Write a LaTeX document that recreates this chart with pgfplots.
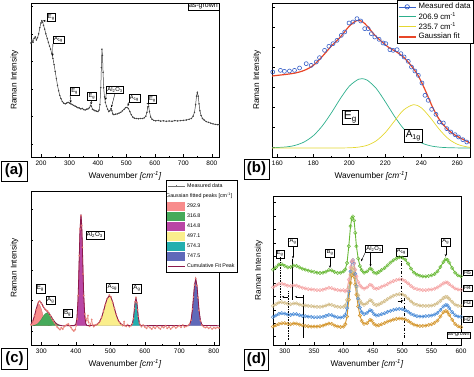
\documentclass[border=0pt]{standalone}
\usepackage{pgfplots}
\pgfplotsset{compat=1.18}
\usepackage{fontspec}
\setmainfont{Liberation Sans}
\usetikzlibrary{arrows.meta}

\definecolor{bblue}{RGB}{55,95,200}
\definecolor{bteal}{RGB}{45,175,140}
\definecolor{byel}{RGB}{228,215,50}
\definecolor{bred}{RGB}{232,70,40}
\definecolor{cpink}{RGB}{248,140,140}
\definecolor{cgreen}{RGB}{70,170,90}
\definecolor{cmag}{RGB}{185,70,165}
\definecolor{cyel}{RGB}{250,238,140}
\definecolor{cteal}{RGB}{35,175,175}
\definecolor{cslate}{RGB}{95,105,185}
\definecolor{cmaroon}{RGB}{140,25,75}
\definecolor{csalmon}{RGB}{232,125,115}
\definecolor{dgreen}{RGB}{105,185,55}
\definecolor{dpink}{RGB}{245,165,165}
\definecolor{dtan}{RGB}{210,188,135}
\definecolor{dblue}{RGB}{75,140,215}
\definecolor{dorange}{RGB}{212,150,45}

\pgfplotsset{
  panel/.style={
    scale only axis, anchor=south west,
    axis line style={line width=0.7pt},
    tick pos=left, tick align=inside,
    major tick length=2.5pt, minor tick length=1.4pt,
    every tick/.style={line width=0.5pt, black},
    yticklabels={},
    tick label style={font=\fontsize{6.5}{7.5}\selectfont},
    /pgf/number format/assume math mode=true,
    xlabel={Wavenumber \textit{[cm\textsuperscript{-1}]}},
    ylabel={Raman Intensity},
    label style={font=\fontsize{8.3}{9}\selectfont},
    xlabel style={at={(axis description cs:0.5,0)}, anchor=center, yshift=-19pt},
  },
}
\tikzset{
  lbl/.style={draw, line width=0.4pt, inner sep=1pt, fill=white, font=\fontsize{5.8}{6.5}\selectfont},
  arr/.style={-{Stealth[length=2.5pt,width=2pt]}, line width=0.4pt},
}

\begin{document}
\begin{tikzpicture}[x=1pt,y=1pt]
\useasboundingbox (0,0) rectangle (474,377);

% ---------------- (a)
\begin{axis}[panel, at={(31pt,220pt)}, width=188pt, height=154pt,
  xmin=165, xmax=825, ymin=0, ymax=1,
  xtick={200,300,...,800}, minor x tick num=1,
  ytick={0.083,0.262,0.441,0.62,0.799,0.978}, minor y tick num=1,
  ylabel style={at={(axis description cs:-0.088,0.5)}, anchor=center}]
\addplot[color=black!75, line width=0.5pt, mark=*, mark size=0.45pt] coordinates {
(165,0.74) (168,0.76) (172,0.745) (176,0.77) (180,0.78) (184,0.76) (188,0.775) (192,0.80) (196,0.84) (200,0.87) (203,0.885) (206,0.875) (209,0.855) (213,0.83) (217,0.80) (222,0.77) (226,0.745) (230,0.72) (234,0.70) (238,0.67) (242,0.64) (246,0.60) (250,0.555) (254,0.51) (258,0.465) (262,0.43) (266,0.40) (270,0.38) (275,0.36) (280,0.35) (285,0.345) (290,0.35) (295,0.355) (300,0.35) (305,0.345) (310,0.34) (315,0.335) (320,0.33) (325,0.325) (330,0.32) (335,0.318) (340,0.312) (345,0.315) (350,0.308) (355,0.305) (360,0.31) (365,0.312) (370,0.32) (374,0.335) (377,0.33) (381,0.31) (386,0.305) (390,0.30) (395,0.298) (400,0.295) (404,0.305) (407,0.34) (410,0.45) (412,0.58) (414,0.70) (416,0.66) (418,0.55) (420,0.45) (423,0.39) (426,0.355) (430,0.33) (434,0.31) (438,0.295) (442,0.30) (446,0.315) (449,0.30) (452,0.28) (456,0.275) (462,0.278) (468,0.28) (474,0.285) (480,0.29) (486,0.30) (492,0.31) (497,0.32) (502,0.322) (507,0.315) (512,0.295) (517,0.275) (522,0.26) (528,0.252) (535,0.25) (542,0.248) (550,0.25) (557,0.25) (563,0.255) (568,0.265) (572,0.29) (575,0.325) (578,0.33) (581,0.295) (585,0.26) (590,0.245) (596,0.238) (603,0.235) (612,0.237) (620,0.233) (630,0.235) (640,0.232) (650,0.234) (660,0.232) (670,0.236) (680,0.234) (690,0.236) (700,0.238) (710,0.24) (720,0.245) (728,0.25) (734,0.265) (739,0.29) (743,0.34) (746,0.395) (749,0.42) (752,0.395) (755,0.345) (758,0.30) (762,0.27) (767,0.25) (773,0.24) (780,0.23) (788,0.225) (796,0.22) (804,0.215) (812,0.212) (820,0.21) (825,0.21)};
\node[lbl, anchor=north east, font=\fontsize{7}{8}\selectfont] at (rel axis cs:1,1) {as-grown};
\node[lbl] (a1) at (axis cs:236,0.909) {E\textsubscript{g}};
\draw[arr] (a1.south west) -- (axis cs:207,0.885);
\node[lbl] (a2) at (axis cs:261.5,0.762) {A\textsubscript{1g}};
\draw[arr] (a2.south west) -- (axis cs:241,0.655);
\node[lbl] (a3) at (axis cs:318,0.427) {E\textsubscript{g}};
\draw[arr] (a3.south west) -- (axis cs:305,0.352);
\node[lbl] (a4) at (axis cs:378.6,0.395) {E\textsubscript{g}};
\draw[arr] (a4.south) -- (axis cs:375,0.34);
\node[lbl] (a5) at (axis cs:460,0.438) {Al\textsubscript{2}O\textsubscript{3}};
\draw[arr] (a5.south) -- (axis cs:447,0.322);
\draw[arr] (a5.south west) -- (axis cs:427,0.37);
\node[lbl] (a6) at (axis cs:528,0.381) {A\textsubscript{1g}};
\draw[arr] (a6.south west) -- (axis cs:505,0.33);
\node[lbl] (a7) at (axis cs:591,0.375) {E\textsubscript{g}};
\draw[arr] (a7.south west) -- (axis cs:578,0.338);
\end{axis}

% ---------------- (b)
\begin{axis}[panel, at={(272pt,220pt)}, width=198pt, height=154pt,
  xmin=157, xmax=267, ymin=0, ymax=462,
  xtick={160,180,...,260}, minor x tick num=1,
  ytick={30,90,...,450}, minor y tick num=1,
  ylabel style={at={(axis description cs:-0.076,0.5)}, anchor=center},
  legend style={at={(1.02,1.02)}, anchor=north east, font=\fontsize{7.8}{8.5}\selectfont,
    inner sep=1pt, row sep=-1.8pt, draw=black, line width=0.7pt},
  legend cell align=left]
\addlegendimage{color=bblue, line width=0.6pt, mark=o, mark size=2.2pt, mark options={line width=0.7pt}}
\addlegendentry{Measured data}
\addlegendimage{color=bteal, line width=1pt}
\addlegendentry{206.9 cm\textsuperscript{-1}}
\addlegendimage{color=byel, line width=1pt}
\addlegendentry{235.7 cm\textsuperscript{-1}}
\addlegendimage{color=bred, line width=1.6pt}
\addlegendentry{Gaussian fit}
\addplot[forget plot, color=bteal, line width=0.7pt, smooth] coordinates {
(157,27.6) (165,30.2) (170,35.1) (175,45.5) (180,64.2) (185,93.6) (190,132.4) (195,175.5) (200,212.8) (205,233.2) (207,235) (210,230.2) (215,205.0) (220,165.3) (225,122.5) (230,85.5) (235,58.8) (240,42.4) (245,33.6) (250,29.5) (255,27.9) (260,27.3) (267,27)};
\addplot[forget plot, color=byel, line width=0.7pt, smooth] coordinates {
(157,27) (180,27) (195,27.2) (200,27.6) (205,29.6) (210,35.3) (215,48.9) (220,73.6) (225,107.6) (230,140.6) (235.7,157) (240,147.4) (245,117.7) (250,82.5) (255,54.5) (260,38.1) (265,30.6) (267,29.2)};
\addplot[forget plot, color=bred, line width=1.2pt, smooth] coordinates {
(157,243) (165,248) (170,252) (175,260) (180,275) (185,302) (190,333) (195,360) (200,393) (204,409) (207,407) (210,392) (214,366) (218,346) (222,328) (226,316) (230,300) (234,276) (238,246) (242,202) (246,152) (250,112) (254,86) (258,68) (262,56) (267,42)};
\addplot[forget plot, only marks, color=bblue, mark=o, mark size=2pt, mark options={line width=0.6pt}] coordinates {
(157.4,255) (161.7,260) (163.9,257) (166.7,258) (169.5,260) (172.3,267) (176.0,280) (178.8,275) (181.6,285) (183.4,298) (186.2,320) (188.6,332) (190.9,340) (193.1,350) (195.5,365) (197.4,375) (199.8,402) (202.0,405) (204.2,415) (206.3,408) (208.5,385) (210.4,385) (212.2,370) (214.1,360) (216.5,353) (218.7,342) (220.2,340) (222.5,322) (224.3,320) (226.5,322) (228.6,310) (230.4,300) (232.7,287) (234.5,270) (236.4,258) (238.3,245) (240.3,222) (242.0,185) (243.8,170) (245.7,143) (248.1,128) (250.0,105) (252.2,102) (254.1,85) (256.3,75) (258.7,67) (260.6,60) (263.0,52) (265.2,45)};
\node[lbl, font=\fontsize{12}{13}\selectfont, inner sep=1.5pt] at (axis cs:200.5,119) {E\textsubscript{g}};
\node[lbl, font=\fontsize{10}{11}\selectfont, inner sep=1.5pt] at (axis cs:235.5,64) {A\textsubscript{1g}};
\end{axis}

% ---------------- (c)
\begin{axis}[panel, at={(31pt,32pt)}, width=188pt, height=154pt,
  xmin=270, xmax=815, ymin=-58, ymax=404,
  xtick={300,400,...,800}, minor x tick num=1,
  ytick={-16,75,166,257,348}, minor y tick num=1,
  ylabel style={at={(axis description cs:-0.088,0.5)}, anchor=center},
  legend style={at={(0.718,1.071)}, anchor=north west, font=\fontsize{5.3}{6}\selectfont,
    inner sep=1pt, row sep=0.7pt, draw=black, line width=0.6pt, fill=white},
  legend cell align=left]
\addlegendimage{color=black!55, line width=0.4pt, mark=|, mark size=1pt}
\addlegendentry{Measured data}
\addlegendimage{empty legend}
\addlegendentry{\hspace*{-21pt}Gaussian fitted peaks [cm\textsuperscript{-1}]}
\addlegendimage{legend image code/.code={\fill[cpink] (0pt,-4pt) rectangle (17pt,4pt);}}
\addlegendentry{292.9}
\addlegendimage{legend image code/.code={\fill[cgreen] (0pt,-4pt) rectangle (17pt,4pt);}}
\addlegendentry{316.8}
\addlegendimage{legend image code/.code={\fill[cmag] (0pt,-4pt) rectangle (17pt,4pt);}}
\addlegendentry{414.8}
\addlegendimage{legend image code/.code={\fill[cyel] (0pt,-4pt) rectangle (17pt,4pt);}}
\addlegendentry{497.1}
\addlegendimage{legend image code/.code={\fill[cteal] (0pt,-4pt) rectangle (17pt,4pt);}}
\addlegendentry{574.3}
\addlegendimage{legend image code/.code={\fill[cslate] (0pt,-4pt) rectangle (17pt,4pt);}}
\addlegendentry{747.5}
\addlegendimage{color=cmaroon, line width=0.8pt}
\addlegendentry{Cumulative Fit Peak}
\addplot[forget plot, fill=cpink, draw=cpink!80!black, line width=0.3pt] coordinates {
(270,4.7) (275,12.9) (280,27.9) (285,46.8) (290,61.4) (292.9,64) (295,62.6) (300,49.7) (305,30.8) (310,14.8) (315,5.6) (320,1.6) (325,0.4) (330,0)} \closedcycle;
\addplot[forget plot, fill=cgreen, draw=cgreen!80!black, line width=0.3pt] coordinates {
(275,0.45) (280,1.2) (285,3.0) (290,6.2) (295,11.6) (300,19.0) (305,27.3) (310,34.7) (316.8,39) (320,38.0) (325,32.8) (330,25.0) (335,16.8) (340,9.9) (345,5.1) (350,2.3) (355,0.9) (360,0)} \closedcycle;
\addplot[forget plot, fill=cmag, draw=cmag!80!black, line width=0.3pt] coordinates {
(395,0.1) (400,4.2) (403,20.7) (406,70.9) (408,132.5) (410,210.8) (412,285.5) (414.8,334) (417,303.2) (419,234.7) (421,154.9) (423,87.1) (426,27.2) (429,5.9) (432,0.9) (435,0)} \closedcycle;
\addplot[forget plot, fill=cyel, draw=cyel!70!black, line width=0.3pt] coordinates {
(455,1.0) (460,2.7) (465,6.5) (470,13.9) (475,25.9) (480,42.7) (485,61.9) (490,79.1) (497.1,90) (502,84.7) (507,70.1) (512,51.1) (517,32.8) (522,18.5) (527,9.2) (532,4.0) (537,1.6) (542,0.5)} \closedcycle;
\addplot[forget plot, fill=cteal, draw=cteal!80!black, line width=0.3pt] coordinates {
(560,0.5) (564,6.0) (567,22.0) (570,52.0) (572,71.9) (574.3,82) (577,68.5) (579,47.5) (581,27.1) (584,8.0) (587,1.5) (590,0)} \closedcycle;
\addplot[forget plot, fill=cslate, draw=cslate!80!black, line width=0.3pt] coordinates {
(725,0.35) (730,3.7) (734,16.2) (738,48.1) (741,84.9) (744,121.1) (747.5,140) (751,121.1) (754,84.9) (757,48.1) (761,16.2) (765,3.7) (770,0.35)} \closedcycle;
\addplot[forget plot, color=csalmon, opacity=0.8, line width=0.6pt, mark=*, mark size=0.6pt] coordinates {
(270,3) (275,12) (280,30) (285,48) (290,66) (293,72) (296,73) (300,66) (305,58) (310,50) (315,46) (318,44) (322,38) (326,30) (330,22) (334,15) (338,8) (342,2) (346,-4) (350,-8) (354,-12) (358,-6) (362,-10) (366,-3) (370,0) (374,3) (378,5) (382,0) (386,-6) (390,-12) (394,-16) (398,-12) (401,0) (404,20) (407,90) (410,210) (412,290) (414.8,330) (417,300) (419,235) (421,155) (423,90) (426,35) (429,22) (432,15) (435,30) (437,10) (440,-2) (443,5) (446,18) (449,2) (452,-3) (456,2) (460,3) (465,7) (470,14) (475,26) (480,44) (485,62) (490,80) (497,92) (502,86) (507,70) (512,52) (517,34) (522,18) (527,10) (532,4) (536,0) (540,12) (542,0) (546,-2) (550,3) (555,-3) (560,0) (564,6) (567,22) (570,52) (572,72) (574.3,84) (577,70) (579,48) (581,28) (584,8) (587,2) (590,-3) (595,2) (600,-4) (605,-8) (610,-2) (615,-6) (620,-10) (625,-4) (630,-8) (635,-2) (640,-6) (645,-10) (650,-3) (655,-6) (660,0) (665,-8) (670,-4) (675,-10) (680,-5) (685,-2) (690,-7) (695,-3) (700,0) (705,-5) (710,2) (715,-4) (720,-2) (725,0) (730,5) (734,16) (738,50) (741,86) (744,122) (747.5,142) (751,120) (754,84) (757,46) (761,15) (765,2) (770,-3) (775,-6) (780,-4) (785,-8) (790,-5) (795,-10) (800,-6) (805,-8) (810,-5) (815,-7)};
\addplot[forget plot, color=cmaroon, line width=0.8pt] coordinates {
(270,4.9) (275,13.4) (280,29.1) (285,49.8) (290,67.6) (293,73.2) (295,74.2) (300,68.7) (305,58.1) (310,49.5) (315,44.3) (320,39.6) (325,33.2) (330,25.0) (335,16.8) (340,9.9) (345,5.1) (350,2.3) (355,0.9) (360,0) (395,0.1) (400,4.2) (403,20.7) (406,70.9) (408,132.5) (410,210.8) (412,285.5) (414.8,334) (417,303.2) (419,234.7) (421,154.9) (423,87.1) (426,27.2) (429,5.9) (432,0.9) (435,0) (455,1.0) (460,2.7) (465,6.5) (470,13.9) (475,25.9) (480,42.7) (485,61.9) (490,79.1) (497.1,90) (502,84.7) (507,70.1) (512,51.1) (517,32.8) (522,18.5) (527,9.2) (532,4.0) (537,1.6) (542,0.5) (560,0.5) (564,6.0) (567,22.0) (570,52.0) (572,71.9) (574.3,82) (577,68.5) (579,47.5) (581,27.1) (584,8.0) (587,1.5) (590,0) (725,0.35) (730,3.7) (734,16.2) (738,48.1) (741,84.9) (744,121.1) (747.5,140) (751,121.1) (754,84.9) (757,48.1) (761,16.2) (765,3.7) (770,0.35) (815,0)};
\node[lbl, font=\fontsize{6.2}{7}\selectfont] at (axis cs:297,111) {E\textsubscript{g}};
\node[lbl, font=\fontsize{6.2}{7}\selectfont] at (axis cs:327,76) {A\textsubscript{g}};
\node[lbl, font=\fontsize{6.2}{7}\selectfont] at (axis cs:376,38) {B\textsubscript{g}};
\node[lbl, font=\fontsize{6.2}{7}\selectfont] at (axis cs:455,272) {Al\textsubscript{2}O\textsubscript{3}};
\node[lbl, font=\fontsize{6.2}{7}\selectfont] at (axis cs:506,114) {A\textsubscript{1g}};
\node[lbl, font=\fontsize{6.2}{7}\selectfont] at (axis cs:577,111) {A\textsubscript{g}};
\end{axis}

% ---------------- (d)
\begin{axis}[panel, clip=false, at={(273pt,32pt)}, width=188pt, height=149pt,
  xmin=280, xmax=600, ymin=0, ymax=445,
  xtick={300,350,...,600}, minor x tick num=1,
  ytick={25,65,...,425}, minor y tick num=1,
  ylabel style={at={(axis description cs:-0.076,0.5)}, anchor=center},
  every axis plot/.append style={line width=0.9pt, mark=o, mark size=1.7pt, mark options={line width=0.45pt}}]
\addplot[color=dorange] coordinates {
(280,55) (285,59) (290,63) (295,65) (300,65) (305,63) (310,62) (315,64) (320,64) (325,61) (330,59) (335,57) (340,56) (345,55) (350,55) (355,55) (360,56) (365,58) (370,61) (375,64) (380,63) (385,58) (390,55) (395,54) (400,55) (403,62) (406,85) (409,135) (412,185) (414,208) (416,214) (418,205) (420,180) (422,150) (425,115) (428,88) (431,72) (435,63) (440,65) (445,75) (448,73) (452,63) (456,58) (460,59) (465,62) (470,66) (475,70) (480,73) (485,76) (490,78) (495,79) (500,79) (505,77) (510,72) (515,66) (520,61) (525,58) (530,57) (535,57) (540,58) (545,60) (550,62) (555,66) (560,73) (565,85) (570,98) (574,102) (577,99) (580,90) (585,75) (590,63) (595,56) (600,53)};
\addplot[color=dblue] coordinates {
(280,83) (285,88) (290,93) (295,95) (300,94) (305,91) (310,90) (315,92) (320,92) (325,89) (330,87) (335,86) (340,85) (345,84) (350,83) (355,83) (360,83) (365,84) (370,87) (375,90) (380,89) (385,85) (390,83) (395,82) (400,84) (403,90) (406,110) (409,160) (412,220) (414,248) (416,254) (418,243) (420,212) (422,175) (425,138) (428,112) (431,98) (435,92) (440,96) (445,104) (448,102) (452,92) (456,88) (460,89) (465,92) (470,95) (475,99) (480,102) (485,105) (490,107) (495,108) (500,107) (505,104) (510,99) (515,93) (520,89) (525,86) (530,85) (535,85) (540,86) (545,87) (550,88) (555,91) (560,96) (565,105) (570,115) (574,120) (577,118) (580,110) (585,98) (590,89) (595,85) (600,84)};
\addplot[color=dtan] coordinates {
(280,117) (285,122) (290,127) (295,128) (300,126) (305,123) (310,122) (315,124) (320,124) (325,121) (330,119) (335,118) (340,117) (345,116) (350,115) (355,114) (360,114) (365,115) (370,118) (375,121) (380,120) (385,116) (390,114) (395,113) (400,114) (403,118) (406,135) (409,170) (412,210) (414,228) (416,232) (418,222) (420,198) (422,172) (425,148) (428,132) (431,124) (435,120) (440,125) (445,134) (448,132) (452,122) (456,119) (460,121) (465,126) (470,131) (475,137) (480,142) (485,147) (490,150) (495,152) (500,151) (505,147) (510,139) (515,130) (520,123) (525,120) (530,118) (535,117) (540,117) (545,117) (550,118) (555,120) (560,125) (565,132) (570,140) (574,144) (577,143) (580,138) (585,129) (590,121) (595,117) (600,116)};
\addplot[color=dpink] coordinates {
(280,172) (285,178) (290,183) (295,183) (300,180) (305,177) (310,176) (315,178) (320,177) (325,174) (330,171) (335,169) (340,167) (345,166) (350,165) (355,164) (360,164) (365,165) (370,168) (375,171) (380,170) (385,166) (390,164) (395,163) (400,164) (403,160) (406,165) (409,195) (412,232) (414,250) (416,254) (418,245) (420,225) (422,205) (425,188) (428,178) (431,172) (435,168) (440,172) (445,180) (448,178) (452,170) (456,168) (460,170) (465,174) (470,178) (475,182) (480,187) (485,191) (490,194) (495,196) (500,195) (505,191) (510,184) (515,176) (520,170) (525,167) (530,165) (535,164) (540,164) (545,165) (550,166) (555,168) (560,172) (565,178) (570,184) (574,187) (577,186) (580,182) (585,175) (590,169) (595,166) (600,165)};
\addplot[color=dgreen] coordinates {
(280,225) (285,232) (290,240) (295,241) (300,236) (305,232) (310,233) (315,237) (320,236) (325,232) (330,228) (335,225) (340,222) (345,220) (350,218) (355,216) (360,215) (365,216) (370,219) (375,224) (380,223) (385,218) (390,215) (395,216) (400,220) (403,226) (406,245) (409,295) (412,355) (414,378) (416,384) (418,372) (420,335) (422,295) (425,258) (428,236) (431,224) (435,216) (440,220) (445,228) (448,226) (452,216) (456,214) (460,218) (465,224) (470,230) (475,238) (480,246) (485,253) (490,258) (495,262) (500,261) (505,255) (510,243) (515,228) (520,216) (525,210) (530,207) (535,205) (540,205) (545,206) (550,208) (555,212) (560,220) (565,233) (570,248) (574,256) (577,254) (580,246) (585,230) (590,216) (595,208) (600,205)};
\node[lbl, font=\fontsize{5.3}{6}\selectfont] at (axis cs:611,216) {H5};
\node[lbl, font=\fontsize{5.3}{6}\selectfont] at (axis cs:611,170) {H4};
\node[lbl, font=\fontsize{5.3}{6}\selectfont] at (axis cs:611,125) {H3};
\node[lbl, font=\fontsize{5.3}{6}\selectfont] at (axis cs:611,77) {H2};
\node[lbl, font=\fontsize{5.3}{6}\selectfont] at (axis cs:596,30) {as-grown};
\node[lbl] at (axis cs:292,272) {E\textsubscript{g}};
\draw[densely dotted, line width=0.6pt] (axis cs:293,262) -- (axis cs:293,135);
\draw[densely dotted, line width=0.6pt] (axis cs:306,160) -- (axis cs:306,15);
\draw[arr] (axis cs:305,144) -- (axis cs:295,144);
\node[lbl] at (axis cs:314,308) {A\textsubscript{g}};
\draw[arr] (axis cs:314,296) -- (axis cs:314,258);
\draw[line width=0.4pt] (axis cs:313,258) -- (axis cs:313,135);
\draw[line width=0.4pt] (axis cs:332,150) -- (axis cs:332,20);
\draw[arr] (axis cs:331,144) -- (axis cs:317,144);
\node[lbl] at (axis cs:377,275) {B\textsubscript{g}};
\draw[arr] (axis cs:377,264) -- (axis cs:377,230);
\node[lbl] (al) at (axis cs:452,288) {Al\textsubscript{2}O\textsubscript{3}};
\draw[arr] (al.south west) -- (axis cs:430,250);
\draw[arr] (axis cs:446,279) -- (axis cs:446,234);
\node[lbl] at (axis cs:498.5,278) {A\textsubscript{1g}};
\draw[dash dot, line width=0.5pt] (axis cs:498,266) -- (axis cs:498,125);
\draw[dash dot, line width=0.5pt] (axis cs:504,140) -- (axis cs:504,20);
\draw[arr] (axis cs:492,132) -- (axis cs:502,132);
\node[lbl] at (axis cs:574,308) {A\textsubscript{g}};
\draw[arr] (axis cs:574,296) -- (axis cs:574,264);
\end{axis}

% panel labels
\node[draw, line width=0.6pt, inner sep=1pt, minimum width=26pt, minimum height=20pt, font=\fontsize{15}{16}\selectfont\bfseries] at (14pt,206pt) {(a)};
\node[draw, line width=0.6pt, inner sep=1pt, minimum width=25pt, minimum height=20pt, font=\fontsize{15}{16}\selectfont\bfseries] at (256.5pt,208pt) {(b)};
\node[draw, line width=0.6pt, inner sep=1pt, minimum width=26pt, minimum height=21pt, font=\fontsize{15}{16}\selectfont\bfseries] at (14.5pt,18pt) {(c)};
\node[draw, line width=0.6pt, inner sep=1pt, minimum width=24pt, minimum height=21pt, font=\fontsize{15}{16}\selectfont\bfseries] at (256.5pt,17.5pt) {(d)};
\end{tikzpicture}
\end{document}
